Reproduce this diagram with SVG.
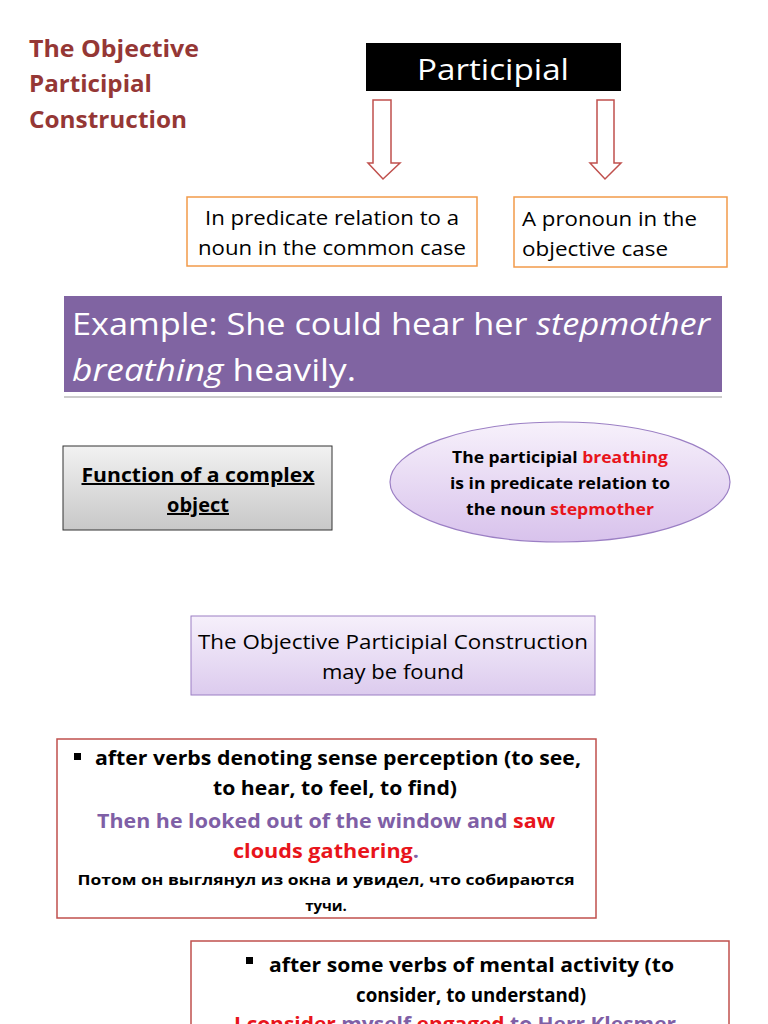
<svg xmlns="http://www.w3.org/2000/svg" width="768" height="1024" viewBox="0 0 768 1024">
<defs>
<linearGradient id="gg" x1="0" y1="0" x2="0" y2="1"><stop offset="0" stop-color="#f2f2f2"/><stop offset="1" stop-color="#c8c8c8"/></linearGradient>
<linearGradient id="gp" x1="0" y1="0" x2="0" y2="1"><stop offset="0" stop-color="#f6f0fb"/><stop offset="1" stop-color="#dccbee"/></linearGradient>
<linearGradient id="ge" x1="0" y1="0" x2="0" y2="1"><stop offset="0" stop-color="#f7f1fb"/><stop offset="1" stop-color="#d8c2ec"/></linearGradient>
</defs>
<style>
text{font-family:"Open Sans","Liberation Sans",sans-serif}
.b{font-weight:bold}
.or{fill:#fff;stroke:#f29a4a;stroke-width:1.5}
.rd{fill:#fff;stroke:#c0504d;stroke-width:1.5}
.arr{fill:#fff;stroke:#c0504d;stroke-width:1.5}
.red{fill:#e8141b}
.pur{fill:#7f5fa6}
</style>
<g id="title"><text x="29" y="57" font-size="23" class="b" fill="#953735" textLength="170" lengthAdjust="spacingAndGlyphs">The Objective</text><text x="29" y="92" font-size="23" class="b" fill="#953735" textLength="123" lengthAdjust="spacingAndGlyphs">Participial</text><text x="29" y="128" font-size="23" class="b" fill="#953735" textLength="158" lengthAdjust="spacingAndGlyphs">Construction</text></g>
<g id="participial"><rect x="366" y="43" width="255" height="48" fill="#000"/><text x="493" y="80" font-size="30" fill="#fff" text-anchor="middle" textLength="152" lengthAdjust="spacingAndGlyphs">Participial</text></g>
<g id="connectors">
<polygon class="arr" points="373,100 391,100 391,163 400,163 383,179 368,163 373,163"/>
<polygon class="arr" points="597,100 614,100 614,163 621,163 605,179 590,163 597,163"/>
</g>
<g id="box1"><rect class="or" x="187" y="197" width="290" height="69"/><text x="332" y="225" font-size="20" text-anchor="middle" textLength="254" lengthAdjust="spacingAndGlyphs">In predicate relation to a</text><text x="332" y="255" font-size="20" text-anchor="middle" textLength="268" lengthAdjust="spacingAndGlyphs">noun in the common case</text></g>
<g id="box2"><rect class="or" x="514" y="197" width="213" height="70"/><text x="522" y="226" font-size="20" textLength="175" lengthAdjust="spacingAndGlyphs">A pronoun in the</text><text x="522" y="256" font-size="20" textLength="146" lengthAdjust="spacingAndGlyphs">objective case</text></g>
<g id="example"><rect x="64" y="296" width="658" height="96" fill="#8064a2"/><line x1="64" y1="397" x2="722" y2="397" stroke="#ccc" stroke-width="2"/>
<text x="72" y="335" font-size="31" fill="#fff" textLength="638" lengthAdjust="spacingAndGlyphs">Example:  She could hear her <tspan font-style="italic">stepmother</tspan></text>
<text x="72" y="381" font-size="31" fill="#fff" textLength="284" lengthAdjust="spacingAndGlyphs"><tspan font-style="italic">breathing</tspan>  heavily.</text></g>
<g id="function"><rect x="63" y="446" width="269" height="84" fill="url(#gg)" stroke="#333" stroke-width="1"/><text x="198" y="482" font-size="20" class="b" text-anchor="middle" text-decoration="underline" textLength="233" lengthAdjust="spacingAndGlyphs">Function of a complex</text><text x="198" y="512" font-size="20" class="b" text-anchor="middle" text-decoration="underline">object</text></g>
<g id="ellipse"><ellipse cx="560" cy="482" rx="170" ry="60" fill="url(#ge)" stroke="#9b7fc4" stroke-width="1.2"/>
<text x="560" y="463" font-size="16" class="b" text-anchor="middle" textLength="216" lengthAdjust="spacingAndGlyphs">The participial <tspan class="red">breathing</tspan></text>
<text x="560" y="489" font-size="16" class="b" text-anchor="middle" textLength="220" lengthAdjust="spacingAndGlyphs">is in predicate relation to</text>
<text x="560" y="515" font-size="16" class="b" text-anchor="middle" textLength="188" lengthAdjust="spacingAndGlyphs">the noun <tspan class="red">stepmother</tspan></text></g>
<g id="found"><rect x="191" y="616" width="404" height="79" fill="url(#gp)" stroke="#9b7fc4" stroke-width="1"/><text x="393" y="649" font-size="20" text-anchor="middle" textLength="390" lengthAdjust="spacingAndGlyphs">The Objective Participial Construction</text><text x="393" y="679" font-size="20" text-anchor="middle" textLength="142" lengthAdjust="spacingAndGlyphs">may be found</text></g>
<g id="sense"><rect class="rd" x="57" y="739" width="539" height="179"/>
<rect x="74" y="753" width="7" height="7" fill="#000"/>
<text x="95" y="765" font-size="20" class="b" textLength="486" lengthAdjust="spacingAndGlyphs">after verbs denoting sense perception (to see,</text>
<text x="335" y="795" font-size="20" class="b" text-anchor="middle" textLength="244" lengthAdjust="spacingAndGlyphs">to hear, to feel, to find)</text>
<text x="326" y="828" font-size="20" class="b pur" text-anchor="middle" textLength="458" lengthAdjust="spacingAndGlyphs">Then he looked out of the window and <tspan class="red">saw</tspan></text>
<text x="326" y="858" font-size="20" class="b red" text-anchor="middle" textLength="186" lengthAdjust="spacingAndGlyphs">clouds gathering<tspan class="pur">.</tspan></text>
<text x="326" y="885" font-size="15" class="b" text-anchor="middle" textLength="497" lengthAdjust="spacingAndGlyphs">Потом он выглянул из окна и увидел, что собираются</text>
<text x="326" y="911" font-size="15" class="b" text-anchor="middle">тучи.</text></g>
<g id="mental"><rect class="rd" x="191" y="941" width="538" height="100"/>
<rect x="246" y="957" width="7" height="7" fill="#000"/>
<text x="269" y="972" font-size="20" class="b" textLength="405" lengthAdjust="spacingAndGlyphs">after some verbs of mental activity (to</text>
<text x="471" y="1002" font-size="20" class="b" text-anchor="middle" textLength="230" lengthAdjust="spacingAndGlyphs">consider, to understand)</text>
<text x="458" y="1031" font-size="20" class="b red" text-anchor="middle" textLength="448" lengthAdjust="spacingAndGlyphs">I consider <tspan class="pur">myself</tspan> engaged <tspan class="pur">to Herr Klesmer.</tspan></text></g>
</svg>
